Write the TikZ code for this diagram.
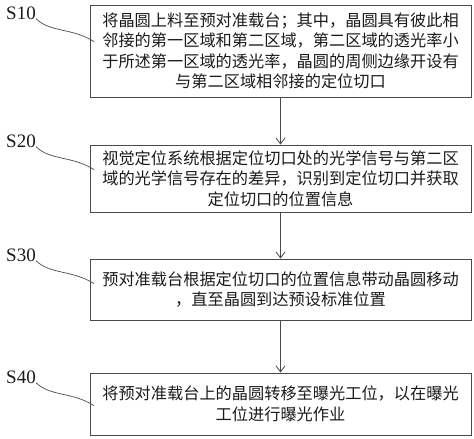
\documentclass[tikz,border=0pt]{standalone}
\usepackage{fontspec}
\setmainfont{Liberation Serif}
\newfontfamily\cjk{Noto Sans CJK SC}
\usetikzlibrary{arrows.meta,positioning,calc}
\definecolor{FlowLine}{HTML}{4A4A4A}
\definecolor{FlowText}{HTML}{1A1A1A}

\begin{document}
\begin{tikzpicture}[
    x=1pt, y=-1pt,
    stepbox/.style={
      draw=FlowLine,
      line width=0.9pt,
      minimum width=381pt,
      minimum height=#1,
      align=center,
      inner sep=0pt,
      text=FlowText,
      font=\cjk\fontsize{16.2}{20.5}\selectfont
    },
    steplabel/.style={
      inner sep=0pt,
      text=FlowText,
      font=\fontsize{19}{19}\selectfont
    },
    arrow/.style={
      -{Straight Barb[length=6pt,width=9pt]},
      line width=0.8pt,
      color=FlowLine
    },
    leader/.style={
      line width=0.7pt,
      color=FlowLine
    }
  ]
  \useasboundingbox (0,0) rectangle (474,439);

  % Steps
  \node[stepbox=92pt] (b1) at (280.5,51)
    {将晶圆上料至预对准载台；其中，晶圆具有彼此相\\
     邻接的第一区域和第二区域，第二区域的透光率小\\
     于所述第一区域的透光率，晶圆的周侧边缘开设有\\
     与第二区域相邻接的定位切口};
  \node[stepbox=67pt] (b2) at (280.5,178.5)
    {视觉定位系统根据定位切口处的光学信号与第二区\\
     域的光学信号存在的差异，识别到定位切口并获取\\
     定位切口的位置信息};
  \node[stepbox=61pt] (b3) at (280.5,289.5)
    {预对准载台根据定位切口的位置信息带动晶圆移动\\
     ，直至晶圆到达预设标准位置};
  \node[stepbox=62pt] (b4) at (280.5,404)
    {将预对准载台上的晶圆转移至曝光工位，以在曝光\\
     工位进行曝光作业};

  % Step labels
  \node[steplabel] (s1) at (21,13)  {S10};
  \node[steplabel] (s2) at (21,141) {S20};
  \node[steplabel] (s3) at (21,255) {S30};
  \node[steplabel] (s4) at (21,377) {S40};

  % Flow arrows
  \foreach \a/\b in {b1/b2,b2/b3,b3/b4}
    \draw[arrow] (\a.south) -- (\b.north);

  % Wavy leaders
  \foreach \s in {1,2,3,4}{
    \coordinate (e\s) at ($(s\s.south east)+(58,22)$);
    \draw[leader] ($(s\s.south east)+(0,-1)$)
      .. controls +(14,14) and +(-22,-14) .. (e\s);
  }

\end{tikzpicture}
\end{document}
